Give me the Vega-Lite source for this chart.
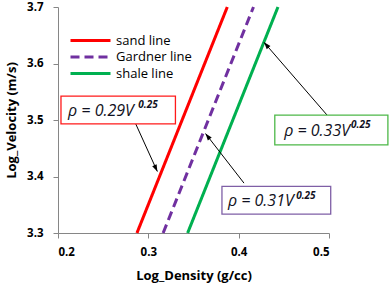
{
  "$schema": "https://vega.github.io/schema/vega-lite/v6.json",
  "width": 271,
  "height": 226,
  "autosize": {"type": "none"},
  "padding": {"left": 58, "top": 7, "right": 60, "bottom": 51},
  "background": "white",
  "config": {
    "view": {"stroke": null},
    "font": "Open Sans",
    "axis": {
      "grid": false,
      "domainColor": "#868686",
      "tickColor": "#868686",
      "tickSize": 5,
      "labelFont": "Open Sans",
      "labelFontSize": 11.5,
      "labelFontWeight": "bold",
      "labelColor": "#000000",
      "titleFont": "Open Sans",
      "titleFontSize": 13,
      "titleFontWeight": "bold",
      "titleColor": "#000000"
    }
  },
  "datasets": {
    "lines": [
      {"series": "sand line", "density": 0.2874, "velocity": 3.3},
      {"series": "sand line", "density": 0.3874, "velocity": 3.7},
      {"series": "Gardner line", "density": 0.3164, "velocity": 3.3},
      {"series": "Gardner line", "density": 0.4164, "velocity": 3.7},
      {"series": "shale line", "density": 0.3435, "velocity": 3.3},
      {"series": "shale line", "density": 0.4435, "velocity": 3.7}
    ],
    "boxes": [
      {"eq": "0.29", "density": 0.2033, "density_to": 0.33, "velocity": 3.5421, "velocity_to": 3.493},
      {"eq": "0.33", "density": 0.44, "density_to": 0.5652, "velocity": 3.5088, "velocity_to": 3.4561},
      {"eq": "0.31", "density": 0.3815, "density_to": 0.5019, "velocity": 3.3825, "velocity_to": 3.3333}
    ],
    "arrows": [
      {"eq": "0.29", "density": 0.31, "velocity": 3.4088, "density_to": 0.2856, "velocity_to": 3.4947},
      {"eq": "0.33", "density": 0.4281, "velocity": 3.6374, "density_to": 0.4978, "velocity_to": 3.5088},
      {"eq": "0.31", "density": 0.3633, "velocity": 3.476, "density_to": 0.4059, "velocity_to": 3.3883}
    ],
    "equations": [
      {"eq": "0.29", "text": "ρ = 0.29V", "density": 0.2111, "velocity": 3.507},
      {"eq": "0.33", "text": "ρ = 0.33V", "density": 0.4504, "velocity": 3.4719},
      {"eq": "0.31", "text": "ρ = 0.31V", "density": 0.3881, "velocity": 3.3474}
    ],
    "exponents": [
      {"eq": "0.29", "text": "0.25", "density": 0.2889, "velocity": 3.5211},
      {"eq": "0.33", "text": "0.25", "density": 0.5244, "velocity": 3.4854},
      {"eq": "0.31", "text": "0.25", "density": 0.4637, "velocity": 3.3609}
    ]
  },
  "encoding": {
    "x": {
      "field": "density",
      "type": "quantitative",
      "title": "Log_Density (g/cc)",
      "scale": {"domain": [0.2, 0.5], "nice": false, "zero": false},
      "axis": {"values": [0.2, 0.3, 0.4, 0.5], "format": ".1f", "labelPadding": 8, "titlePadding": 12}
    },
    "y": {
      "field": "velocity",
      "type": "quantitative",
      "title": "Log_Velocity (m/s)",
      "scale": {"domain": [3.3, 3.7], "nice": false, "zero": false},
      "axis": {"values": [3.3, 3.4, 3.5, 3.6, 3.7], "format": ".1f", "labelPadding": 10, "titlePadding": 8}
    }
  },
  "layer": [
    {
      "data": {"name": "lines"},
      "mark": {"type": "line", "strokeWidth": 3},
      "encoding": {
        "color": {
          "field": "series",
          "type": "nominal",
          "scale": {"domain": ["sand line", "Gardner line", "shale line"], "range": ["#FF0000", "#7030A0", "#00B050"]},
          "legend": {
            "orient": "none", "legendX": 26, "legendY": 27, "title": null, "padding": 0,
            "symbolType": "M-4,0H4", "symbolSize": 100, "symbolStrokeWidth": 3,
            "labelFont": "Open Sans", "labelFontSize": 13, "labelColor": "#000000",
            "labelOffset": 19, "rowPadding": 2.5
          }
        },
        "strokeDash": {
          "field": "series",
          "type": "nominal",
          "scale": {"domain": ["sand line", "Gardner line", "shale line"], "range": [[1, 0], [9, 5], [1, 0]]},
          "legend": {
            "orient": "none", "legendX": 26, "legendY": 27, "title": null, "padding": 0,
            "symbolType": "M-4,0H4", "symbolSize": 100, "symbolStrokeWidth": 3,
            "labelFont": "Open Sans", "labelFontSize": 13, "labelColor": "#000000",
            "labelOffset": 19, "rowPadding": 2.5
          }
        }
      }
    },
    {
      "data": {"name": "arrows"},
      "mark": {"type": "rule", "color": "#000000", "strokeWidth": 1},
      "encoding": {
        "x2": {"field": "density_to"},
        "y2": {"field": "velocity_to"}
      }
    },
    {
      "data": {"name": "arrows"},
      "transform": [{"filter": "datum.eq == '0.29'"}],
      "mark": {"type": "point", "shape": "M0,0L-0.7,2L0.7,2Z", "size": 49, "filled": true, "color": "#000000", "opacity": 1, "strokeWidth": 0, "angle": 155}
    },
    {
      "data": {"name": "arrows"},
      "transform": [{"filter": "datum.eq == '0.33'"}],
      "mark": {"type": "point", "shape": "M0,0L-0.7,2L0.7,2Z", "size": 49, "filled": true, "color": "#000000", "opacity": 1, "strokeWidth": 0, "angle": 319.5}
    },
    {
      "data": {"name": "arrows"},
      "transform": [{"filter": "datum.eq == '0.31'"}],
      "mark": {"type": "point", "shape": "M0,0L-0.7,2L0.7,2Z", "size": 49, "filled": true, "color": "#000000", "opacity": 1, "strokeWidth": 0, "angle": 322.5}
    },
    {
      "data": {"name": "boxes"},
      "mark": {"type": "rect", "fill": "#FFFFFF", "strokeWidth": 1.3},
      "encoding": {
        "x2": {"field": "density_to"},
        "y2": {"field": "velocity_to"},
        "stroke": {
          "field": "eq",
          "type": "nominal",
          "scale": {"domain": ["0.29", "0.31", "0.33"], "range": ["#FF1A1A", "#7F5FA6", "#4DB848"]},
          "legend": null
        }
      }
    },
    {
      "data": {"name": "equations"},
      "mark": {"type": "text", "align": "left", "baseline": "alphabetic", "font": "Open Sans", "fontSize": 16, "fontStyle": "italic", "color": "#111122"},
      "encoding": {"text": {"field": "text"}}
    },
    {
      "data": {"name": "exponents"},
      "mark": {"type": "text", "align": "left", "baseline": "alphabetic", "font": "Open Sans", "fontSize": 10, "fontStyle": "italic", "fontWeight": "bold", "color": "#111122"},
      "encoding": {"text": {"field": "text"}}
    }
  ]
}
